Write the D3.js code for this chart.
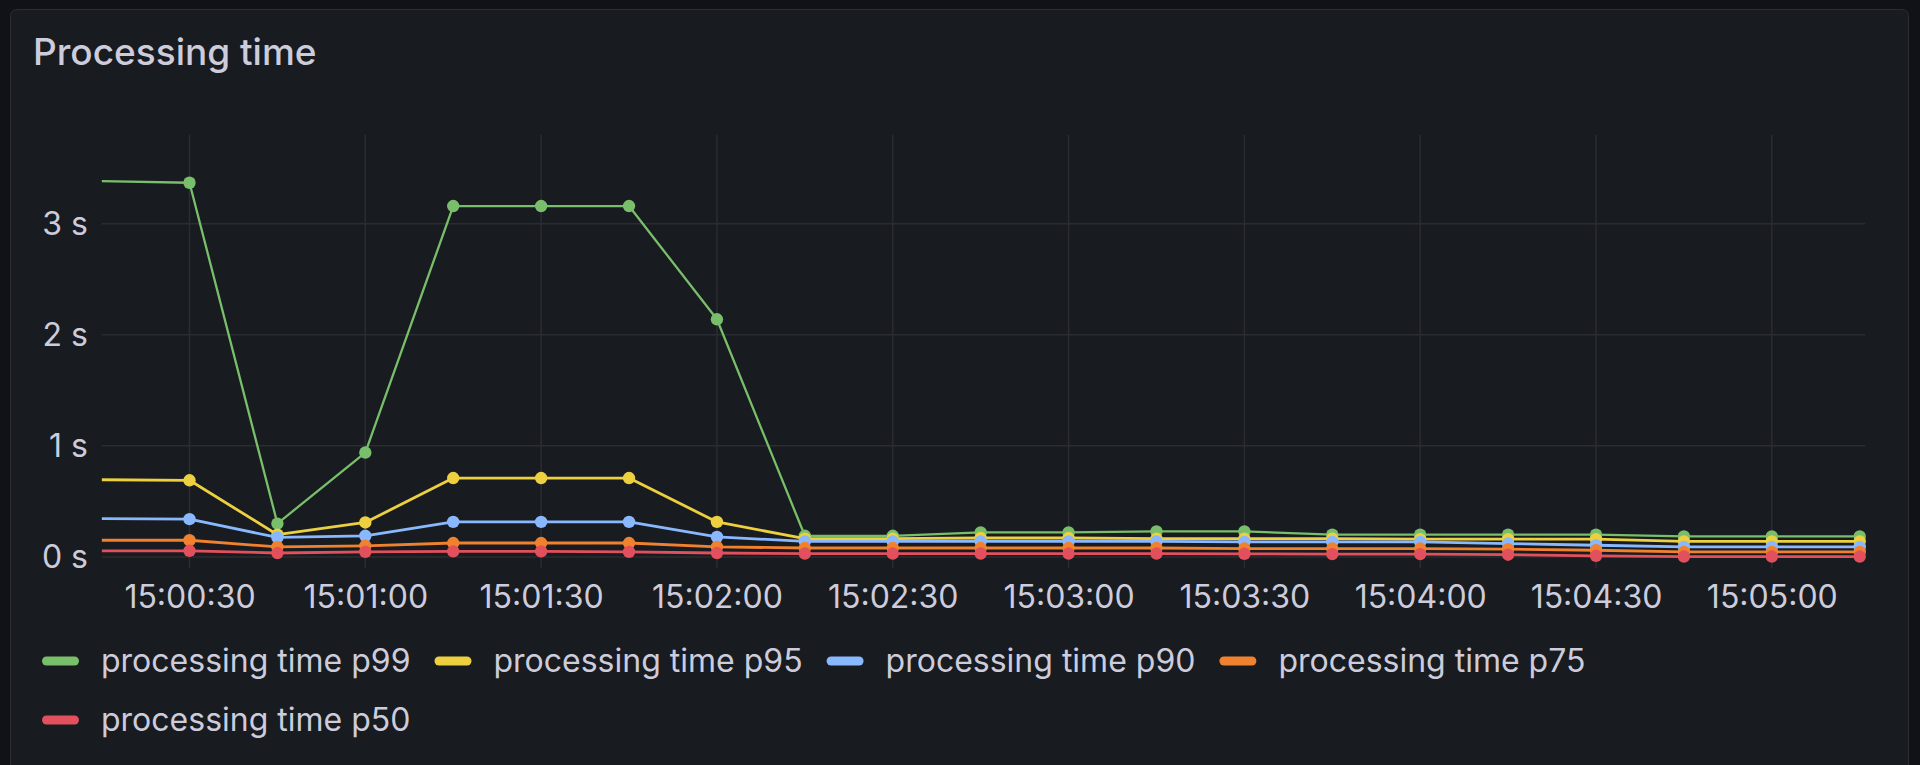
<!DOCTYPE html>
<html>
<head>
<meta charset="utf-8">
<script src="https://cdn.jsdelivr.net/npm/d3@7"></script>
<style>
  html, body { margin: 0; padding: 0; background: #111217; }
  svg { display: block; font-family: Inter, "Noto Sans", sans-serif; }
</style>
</head>
<body>
<div id="chart"></div>
<script>
const width = 1920, height = 765;

// sample times (HH:MM:SS, one every 15 s)
const times = ["15:00:15", "15:00:30", "15:00:45", "15:01:00", "15:01:15", "15:01:30", "15:01:45",
  "15:02:00", "15:02:15", "15:02:30", "15:02:45", "15:03:00", "15:03:15", "15:03:30", "15:03:45",
  "15:04:00", "15:04:15", "15:04:30", "15:04:45", "15:05:00", "15:05:15"];

// series values in seconds
const p99 = [3.385, 3.37, 0.30, 0.94, 3.16, 3.16, 3.16, 2.14, 0.19, 0.19, 0.22, 0.22, 0.23, 0.23, 0.20, 0.20, 0.20, 0.20, 0.185, 0.185, 0.185];
const p95 = [0.695, 0.69, 0.20, 0.31, 0.71, 0.71, 0.71, 0.315, 0.165, 0.165, 0.17, 0.17, 0.165, 0.165, 0.165, 0.16, 0.16, 0.16, 0.14, 0.14, 0.14];
const p90 = [0.345, 0.34, 0.175, 0.19, 0.315, 0.315, 0.315, 0.18, 0.14, 0.14, 0.14, 0.14, 0.14, 0.135, 0.135, 0.135, 0.12, 0.105, 0.09, 0.09, 0.09];
const p75 = [0.15, 0.15, 0.09, 0.10, 0.125, 0.125, 0.125, 0.09, 0.08, 0.08, 0.08, 0.08, 0.08, 0.075, 0.075, 0.075, 0.07, 0.06, 0.045, 0.045, 0.045];
const p50 = [0.055, 0.055, 0.035, 0.045, 0.05, 0.05, 0.045, 0.035, 0.03, 0.03, 0.03, 0.03, 0.03, 0.028, 0.025, 0.025, 0.02, 0.01, 0.003, 0.003, 0.003];

const seriesNames = ["processing time p99", "processing time p95", "processing time p90", "processing time p75", "processing time p50"];
const seriesValues = [p99, p95, p90, p75, p50];
const seriesColors = ["#79be6a", "#ecd03f", "#8ab8ff", "#f0812f", "#e2505d"];

// tick labels
const xTickLabels = ["15:00:30", "15:01:00", "15:01:30", "15:02:00", "15:02:30", "15:03:00", "15:03:30", "15:04:00", "15:04:30", "15:05:00"];
const yTickValues = [0, 1, 2, 3];

const parseTime = s => {
    const [h, m, sec] = s.split(":").map(Number);
    return new Date(2024, 0, 1, h, m, sec);
};

const textColor = "#ccccdc";
const gridColor = "#2a2c31";
const labelFont = "32px";

const svg = d3.select("#chart").append("svg").attr("width", width).attr("height", height);

// panel
svg.append("rect")
    .attr("x", 10.5).attr("y", 9.5)
    .attr("width", 1898).attr("height", 800)
    .attr("rx", 6)
    .attr("fill", "#181b1f")
    .attr("stroke", "#2a2d32");

svg.append("text")
    .attr("x", 33).attr("y", 65)
    .attr("fill", textColor)
    .style("font-size", "37px")
    .style("font-weight", 500)
    .text("Processing time");

const plot = { left: 101.6, right: 1865, top: 135, bottom: 568 };

const x = d3.scaleTime()
    .domain([parseTime("15:00:15"), new Date(parseTime("15:05:15").getTime() + 900)])
    .range([plot.left, plot.right]);

const y = d3.scaleLinear()
    .domain([-0.1, 3.8])
    .range([plot.bottom, plot.top]);

// grid
const grid = svg.append("g");
grid.selectAll(".hgrid")
    .data(yTickValues)
    .enter().append("line")
    .attr("x1", plot.left).attr("x2", plot.right)
    .attr("y1", d => y(d)).attr("y2", d => y(d))
    .attr("stroke", gridColor).attr("stroke-width", 1.5);

grid.selectAll(".vgrid")
    .data(xTickLabels.map(parseTime))
    .enter().append("line")
    .attr("x1", d => x(d)).attr("x2", d => x(d))
    .attr("y1", plot.top).attr("y2", plot.bottom)
    .attr("stroke", gridColor).attr("stroke-width", 1.5);

// axes
const yAxis = d3.axisLeft(y)
    .tickValues(yTickValues)
    .tickSize(0)
    .tickPadding(0)
    .tickFormat(d => d + " s");

svg.append("g")
    .attr("transform", "translate(88,0)")
    .call(yAxis)
    .call(g => g.select(".domain").remove())
    .call(g => g.selectAll("text")
        .attr("fill", textColor)
        .style("font-size", labelFont)
        .style("font-family", "Inter, 'Noto Sans', sans-serif"));

const xAxis = d3.axisBottom(x)
    .tickValues(xTickLabels.map(parseTime))
    .tickSize(0)
    .tickPadding(0)
    .tickFormat(d3.timeFormat("%H:%M:%S"));

svg.append("g")
    .attr("transform", "translate(0,582)")
    .call(xAxis)
    .call(g => g.select(".domain").remove())
    .call(g => g.selectAll("text")
        .attr("fill", textColor)
        .attr("dy", "0.8em")
        .style("font-size", labelFont)
        .style("font-family", "Inter, 'Noto Sans', sans-serif"));

// series
svg.append("clipPath").attr("id", "plotClip")
    .append("rect")
    .attr("x", plot.left).attr("y", plot.top - 10)
    .attr("width", plot.right - plot.left + 10).attr("height", plot.bottom - plot.top + 20);

const line = d3.line()
    .x(d => x(d.t))
    .y(d => y(d.v));

const pointR = 6.2;
const seriesG = svg.append("g").attr("clip-path", "url(#plotClip)");

seriesNames.forEach((name, i) => {
    const pts = times.map((t, j) => ({ t: parseTime(t), v: seriesValues[i][j] }));
    const g = seriesG.append("g");
    g.append("path")
        .datum(pts)
        .attr("d", line)
        .attr("fill", "none")
        .attr("stroke", seriesColors[i])
        .attr("stroke-width", i === 0 ? 2.3 : 2.8)
        .attr("stroke-linejoin", "round");
    g.selectAll("circle")
        .data(pts.filter(d => x(d.t) - pointR > plot.left))
        .enter().append("circle")
        .attr("cx", d => x(d.t))
        .attr("cy", d => y(d.v))
        .attr("r", pointR)
        .attr("fill", seriesColors[i]);
});

// legend
const legendRows = [[0, 1, 2, 3], [4]];
const rowY = [661, 720];
legendRows.forEach((row, r) => {
    let cx = 42;
    row.forEach(i => {
        const item = svg.append("g").attr("transform", `translate(${cx},${rowY[r]})`);
        item.append("rect")
            .attr("x", 0).attr("y", -4.5)
            .attr("width", 37).attr("height", 9)
            .attr("rx", 4.5)
            .attr("fill", seriesColors[i]);
        const t = item.append("text")
            .attr("x", 59)
            .attr("dy", "0.35em")
            .attr("fill", textColor)
            .style("font-size", labelFont)
            .text(seriesNames[i]);
        cx += 59 + t.node().getComputedTextLength() + 24;
    });
});
</script>
</body>
</html>
